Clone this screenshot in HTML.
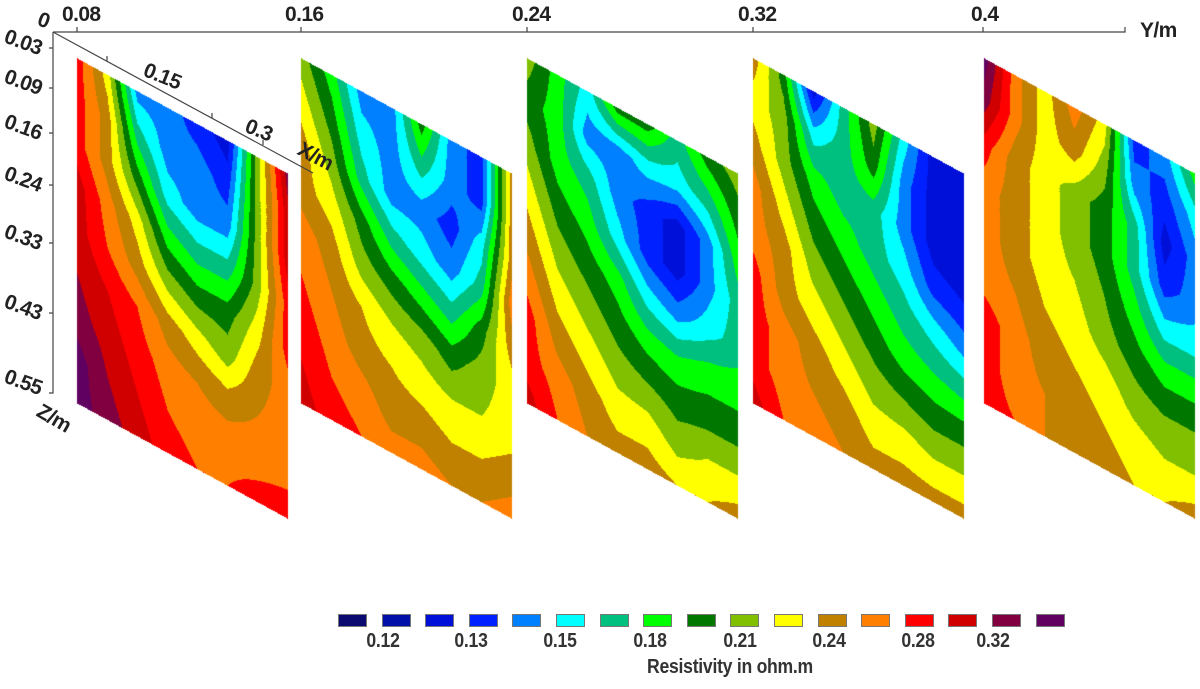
<!DOCTYPE html>
<html><head><meta charset="utf-8"><style>
body{margin:0;background:#fff;width:1200px;height:689px;overflow:hidden;position:relative;font-family:"Liberation Sans Narrow","Liberation Sans",sans-serif;}
.t{position:absolute;font-weight:bold;color:#222;font-size:21px;white-space:nowrap;line-height:1;letter-spacing:-0.6px;}
.lg{position:absolute;font-weight:bold;color:#333;font-size:20px;transform:translateX(-50%) scaleX(0.88);letter-spacing:-0.3px;}
.sw{position:absolute;top:614px;width:27px;height:11px;border:1px solid #777;}
</style></head><body>
<canvas id="cv" width="1200" height="689" style="position:absolute;left:0;top:0"></canvas>
<svg width="1200" height="689" style="position:absolute;left:0;top:0">
<g stroke="#444" stroke-width="1.2" fill="none">
<path d="M53 32 H1125 V27"/>
<path d="M77 32v-5M301 32v-5M527 32v-5M753 32v-5M983 32v-5"/>
<path d="M53 32 V393 H49"/>
<path d="M53 48h-4M53 88h-4M53 133h-4M53 185h-4M53 243h-4M53 313h-4"/>
<path d="M53 32 L313 173"/>
<path d="M107 61v-5M212 118v-5M263 145v-5"/>
</g></svg>
<div class="t" style="left:62px;top:4px">0.08</div>
<div class="t" style="left:285px;top:4px">0.16</div>
<div class="t" style="left:512px;top:4px">0.24</div>
<div class="t" style="left:738px;top:4px">0.32</div>
<div class="t" style="left:971px;top:4px">0.4</div>
<div class="t" style="left:1140px;top:20px">Y/m</div>
<div class="t" style="left:38px;top:10px;transform:rotate(20deg)">0</div>
<div class="t" style="left:4px;top:32px;transform:rotate(20deg)">0.03</div>
<div class="t" style="left:4px;top:72px;transform:rotate(20deg)">0.09</div>
<div class="t" style="left:4px;top:117px;transform:rotate(20deg)">0.16</div>
<div class="t" style="left:4px;top:169px;transform:rotate(20deg)">0.24</div>
<div class="t" style="left:4px;top:227px;transform:rotate(20deg)">0.33</div>
<div class="t" style="left:4px;top:297px;transform:rotate(20deg)">0.43</div>
<div class="t" style="left:4px;top:372px;transform:rotate(20deg)">0.55</div>
<div class="t" style="left:36px;top:408px;transform:rotate(30deg)">Z/m</div>
<div class="t" style="left:143px;top:66px;transform:rotate(22deg)">0.15</div>
<div class="t" style="left:245px;top:120px;transform:rotate(22deg)">0.3</div>
<div class="t" style="left:297px;top:146px;transform:rotate(28deg)">X/m</div>
<div id="legend"></div>
<div class="lg" style="left:730px;top:656px">Resistivity in ohm.m</div>
<script>
const colors=["#0a0a70","#0010a8","#0010d8","#0020ff","#0080ff","#00ffff","#00c080","#00ff00","#007800","#80c000","#ffff00","#c08000","#ff8000","#ff0000","#d00000","#800040","#600060"];
const legendLabels=["0.12","0.13","0.15","0.18","0.21","0.24","0.28","0.32"];
const legendLabelX=[383,471,560,650,740,829,918,993];
// grids of colour-class values (legend class index), rows = depth, cols = X
const grid1=[[13,10,4,4,3,2,9,15],[13,11,6,4,4,3,9,14],[13,11,8,5,4,4,9,14],[14,12,10,7,6,6,9,13],[14,12.5,11,9,8,8,10,13],[14.5,13.5,12.5,11,10,9,11,12],[15,14,13,12,11.5,11,11.5,12],[16,14.5,13.5,12.5,12,12,12,12],[16,15,14,13,12.5,12.5,13,13.5]];
const grid2=[[9,7,4,4,8,4,3,11],[10,8,5,4,6,4,3,11],[11,9,6,4,4,3,5,11],[11,10,8,6,5,4,6,12],[12,11,9,8,7,6,8,11],[12.5,11.5,10.5,9.5,9,8,9,10],[13,12,11,10.5,10,9.5,9.5,10],[13.5,12.5,12,11,11,10.5,10.5,11],[14,13,12.5,12,12,11.5,11.5,12]];
const grid3=[[9,7,5,8,8,6,8,9],[8,7,4,4,5,5,6,8],[9,7,6,4,3,2,4,7],[10,8,7,5,3,2,4,6],[11,9,8,7,5,4,5,6],[12,10,9,8,7,6.5,7,7],[13,11,10,9,8.5,8,8,8],[13,12,11,10,10,9,9.5,9.5],[14,12.5,11.5,11,11,10.5,10.5,11]];
const grid4=[[11,8,2,6,9,5,2,2],[10,9,5,6,8,4,2,2],[11,9,7,6,6,4,2,1.5],[12,10,8,7,6,5,3,2.5],[12,11,9,8,7,6,5,4],[13,11,10,9,8,7,6.5,6],[13,12,11,10,9,8.5,8,8],[13,12,11.5,11,10,10,9.5,9.5],[14,12.5,12,11.5,11,11,11,11]];
const grid5=[[16,12,10,12,10,3,4,7],[15,12,10,11,9,4,3,5],[13,11,10,9,8,6,2,4],[12,11,10,9,8,6,3,4],[12,11,10,9.5,8.5,7,5,5],[12,11.5,10.5,10,9,8,7,7],[13,12,11,10.5,10,9,8.5,8.5],[13,12,11.5,11,10.5,10,9.5,9.5],[13,12.5,11.5,11,11,10.5,10.5,11]];
const grids=[grid1,grid2,grid3,grid4,grid5];
const X0=[77,301,527,753,984], TOP=58, W=210, H=345, SHEAR=115;
function hex(c){return [parseInt(c.substr(1,2),16),parseInt(c.substr(3,2),16),parseInt(c.substr(5,2),16)];}
const rgb=colors.map(hex);
const cv=document.getElementById('cv'),ctx=cv.getContext('2d');
const img=ctx.createImageData(1200,689);
for(let i=0;i<img.data.length;i++)img.data[i]=255;
function sample(g,u,v){const R=g.length-1,C=g[0].length-1;let fx=u*C,fy=v*R;let i=Math.min(Math.floor(fy),R-1),j=Math.min(Math.floor(fx),C-1);let a=fx-j,b=fy-i;
return g[i][j]*(1-a)*(1-b)+g[i][j+1]*a*(1-b)+g[i+1][j]*(1-a)*b+g[i+1][j+1]*a*b;}
grids.forEach((g,p)=>{const x0=X0[p];
for(let X=x0;X<=x0+W;X++){const u=(X-x0)/W;for(let Y=TOP;Y<=TOP+H+SHEAR;Y++){const v=(Y-TOP-SHEAR*u)/H;if(v<0||v>1)continue;
let k=Math.round(sample(g,u,v));k=Math.max(0,Math.min(16,k));const c=rgb[k];const o=(Y*1200+X)*4;img.data[o]=c[0];img.data[o+1]=c[1];img.data[o+2]=c[2];}}});
ctx.putImageData(img,0,0);
const lg=document.getElementById('legend');
colors.forEach((c,i)=>{const d=document.createElement('div');d.className='sw';d.style.left=(338+i*43.6)+'px';d.style.background=c;


lg.appendChild(d);});
legendLabels.forEach((t,i)=>{const d=document.createElement('div');d.className='lg';d.style.left=legendLabelX[i]+'px';d.style.top='630px';d.textContent=t;


lg.appendChild(d);});
</script>
</body></html>
